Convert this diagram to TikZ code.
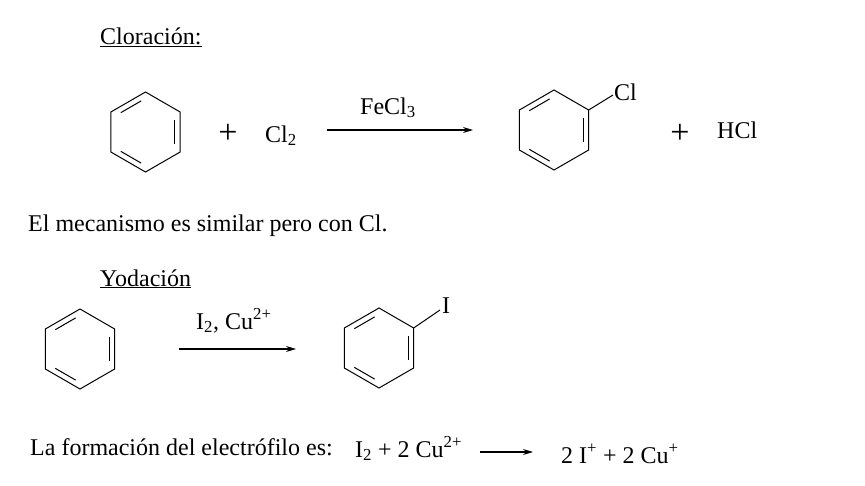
\documentclass[tikz,border=0pt]{standalone}
\usepackage{fontspec}
\setmainfont{Liberation Serif}
\usetikzlibrary{arrows.meta,calc}
\tikzset{
  txt/.style={inner sep=0pt,anchor=base west,font=\fontsize{24}{28}\selectfont},
  plus/.style={inner sep=0pt,anchor=center,font=\fontsize{34}{36}\selectfont},
  rxn/.style={-{Stealth[length=10pt,width=6pt]},line width=1.1pt},
  bond/.style={line width=1pt},
}
\newcommand{\benz}[2]{%
  \begin{scope}[shift={(#1)},bond]
    \draw (90:40) -- (30:40) -- (-30:40) -- (-90:40) -- (-150:40) -- (150:40) -- cycle;
    \draw ($(90:40)!0.15!(150:40)!0.16!(0,0)$) -- ($(150:40)!0.15!(90:40)!0.16!(0,0)$);
    \draw ($(30:40)!0.15!(-30:40)!0.16!(0,0)$) -- ($(-30:40)!0.15!(30:40)!0.16!(0,0)$);
    \draw ($(-90:40)!0.15!(-150:40)!0.16!(0,0)$) -- ($(-150:40)!0.15!(-90:40)!0.16!(0,0)$);
    \coordinate (#2) at (-30:40);
  \end{scope}}
\begin{document}
\begin{tikzpicture}[x=1pt,y=-1pt]
\useasboundingbox[fill=white] (0,0) rectangle (865,485);
\node[txt] (t1) at (100,44) {\underline{Cloración:}};
\benz{145.5,132}{b1}
\node[plus] (p1) at (228,134) {+};
\node[txt] (cl2) at (265,142) {Cl\textsubscript{2}};
\coordinate (a1s) at (327,130); \coordinate (a1e) at (473,130);
\draw[rxn] (a1s) -- (a1e);
\node[txt] (fe) at (360,114) {FeCl\textsubscript{3}};
\benz{554,130}{b2}
\coordinate (clb) at (613,95);
\draw[bond] (b2) -- (clb);
\node[txt] (cl) at (614,100) {Cl};
\node[plus] (p2) at (680,134) {+};
\node[txt] (hcl) at (717,138) {HCl};
\node[txt] (t2) at (28,231) {El mecanismo es similar pero con Cl.};
\node[txt] (t3) at (100,286) {\underline{Yodación}};
\benz{80,349}{b3}
\coordinate (a2s) at (179,349); \coordinate (a2e) at (296,349);
\draw[rxn] (a2s) -- (a2e);
\node[txt] (i2) at (196,329) {I\textsubscript{2}, Cu\textsuperscript{2+}};
\benz{379,348}{b4}
\coordinate (ib) at (440,310);
\draw[bond] (b4) -- (ib);
\node[txt] (ii) at (442,313) {I};
\node[txt] (t4) at (30,455) {La formación del electrófilo es:};
\node[txt] (eq1) at (355,457) {I\textsubscript{2} + 2 Cu\textsuperscript{2+}};
\coordinate (a3s) at (480,452); \coordinate (a3e) at (533,452);
\draw[rxn] (a3s) -- (a3e);
\node[txt] (eq2) at (561,463) {2 I\textsuperscript{+} + 2 Cu\textsuperscript{+}};
\end{tikzpicture}
\end{document}
